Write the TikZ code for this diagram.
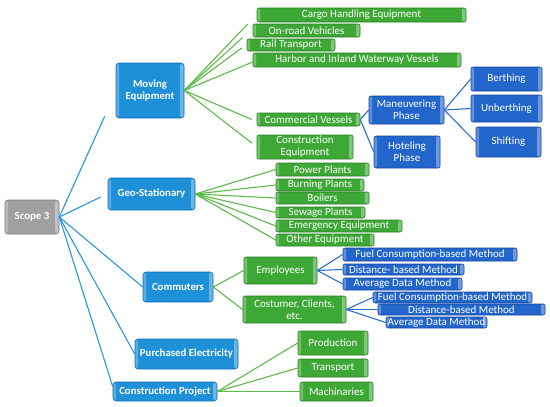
\documentclass[tikz,border=0pt]{standalone}
\usepackage{fontspec}
\setmainfont{Carlito}
\definecolor{lvA}{RGB}{30,144,216}
\definecolor{lvAd}{RGB}{22,108,178}
\definecolor{grA}{RGB}{62,168,54}
\definecolor{grAd}{RGB}{40,128,36}
\definecolor{dbA}{RGB}{34,102,204}
\definecolor{dbAd}{RGB}{22,70,160}
\definecolor{gyA}{RGB}{160,160,160}
\definecolor{gyAd}{RGB}{118,118,118}
\definecolor{lnA}{RGB}{40,150,225}
\definecolor{lnG}{RGB}{92,186,72}
\definecolor{lnD}{RGB}{45,110,210}
\tikzset{
  basebox/.style={rounded corners=2pt, inner sep=0pt, text=white, align=center,
    font=\fontsize{11}{12}\selectfont, line width=0.6pt,
    path picture={
      \fill[white,opacity=0.28] (path picture bounding box.north west) rectangle ([xshift=3pt]path picture bounding box.south west);
      \fill[white,opacity=0.35] ([xshift=-4pt]path picture bounding box.north east) rectangle (path picture bounding box.south east);
    }},
  lvbox/.style={basebox, fill=lvA, draw=lvAd, rounded corners=3pt, font=\bfseries\fontsize{10.8}{12.5}\selectfont},
  gybox/.style={basebox, fill=gyA, draw=gyAd, rounded corners=3pt, font=\bfseries\fontsize{10.8}{12}\selectfont},
  grbox/.style={basebox, fill=grA, draw=grAd},
  dbbox/.style={basebox, fill=dbA, draw=dbAd},
  lineA/.style={draw=lnA, line width=1.1pt},
  lineG/.style={draw=lnG, line width=1.1pt},
  lineD/.style={draw=lnD, line width=1.1pt},
}
\begin{document}
\begin{tikzpicture}[x=1pt,y=-1pt]
\useasboundingbox (0,0) rectangle (550,407);
% level 0 and 1
\node[gybox, minimum width=54pt, minimum height=34pt] (scope) at (32,217) {Scope 3};
\node[lvbox, minimum width=68pt, minimum height=55pt] (mov) at (150,90.5) {Moving\\Equipment};
\node[lvbox, minimum width=87pt, minimum height=32pt] (geo) at (151.5,194) {Geo-Stationary};
\node[lvbox, minimum width=70pt, minimum height=30pt] (com) at (178,287) {Commuters};
\node[lvbox, minimum width=103pt, minimum height=30pt] (pur) at (186.5,354) {Purchased Electricity};
\node[lvbox, minimum width=104pt, minimum height=19pt] (con) at (165,391.5) {Construction Project};
% moving equipment children
\node[grbox, minimum width=209pt, minimum height=14pt] (cargo) at (361.5,15) {Cargo Handling Equipment};
\node[grbox, minimum width=107pt, minimum height=13pt] (onroad) at (306.5,30.5) {On-road Vehicles};
\node[grbox, minimum width=88pt, minimum height=12pt] (rail) at (291,45) {Rail Transport};
\node[grbox, minimum width=208pt, minimum height=14pt] (harbor) at (357,60) {Harbor and Inland Waterway Vessels};
\node[grbox, minimum width=103pt, minimum height=13pt] (cv) at (308.5,119.5) {Commercial Vessels};
\node[grbox, minimum width=96pt, minimum height=24pt] (ce) at (305,147) {Construction\\Equipment};
\node[dbbox, minimum width=75pt, minimum height=28pt] (man) at (406.5,110) {Maneuvering\\Phase};
\node[dbbox, minimum width=66pt, minimum height=32pt] (hot) at (407,152) {Hoteling\\Phase};
\node[dbbox, minimum width=71pt, minimum height=24pt] (ber) at (506.5,79) {Berthing};
\node[dbbox, minimum width=71pt, minimum height=27pt] (unb) at (506.5,108.5) {Unberthing};
\node[dbbox, minimum width=65pt, minimum height=30pt] (shi) at (508.5,142) {Shifting};
% geo-stationary children
\node[grbox, minimum width=93pt, minimum height=13pt] (pp) at (322.5,169.5) {Power Plants};
\node[grbox, minimum width=88pt, minimum height=12pt] (bp) at (320,185) {Burning Plants};
\node[grbox, minimum width=93pt, minimum height=12pt] (boi) at (322.5,198) {Boilers};
\node[grbox, minimum width=89pt, minimum height=11pt] (sew) at (320.5,212.5) {Sewage Plants};
\node[grbox, minimum width=126pt, minimum height=12pt] (emer) at (339,226) {Emergency Equipment};
\node[grbox, minimum width=98pt, minimum height=12pt] (oth) at (325,240) {Other Equipment};
% commuters children
\node[grbox, minimum width=73pt, minimum height=27pt] (emp) at (280.5,270.5) {Employees};
\node[grbox, minimum width=103pt, minimum height=27pt] (cus) at (294.5,309.5) {Costumer, Clients,\\etc.};
\node[dbbox, minimum width=174pt, minimum height=13pt] (ma) at (430,254.5) {Fuel Consumption-based Method};
\node[dbbox, minimum width=121pt, minimum height=11pt] (mb) at (403.5,269.5) {Distance- based Method};
\node[dbbox, minimum width=119pt, minimum height=12pt] (mc) at (402.5,284) {Average Data Method};
\node[dbbox, minimum width=159pt, minimum height=11pt] (na) at (452.5,297.5) {Fuel Consumption-based Method};
\node[dbbox, minimum width=167pt, minimum height=11pt] (nb) at (461.5,309.5) {Distance-based Method};
\node[dbbox, minimum width=101pt, minimum height=11pt] (nc) at (436.5,322.5) {Average Data Method};
% construction project children
\node[grbox, minimum width=70pt, minimum height=24pt] (prod) at (333,343) {Production};
\node[grbox, minimum width=70pt, minimum height=18pt] (tra) at (333,368) {Transport};
\node[grbox, minimum width=73pt, minimum height=19pt] (mach) at (336.5,391.5) {Machinaries};
% connectors from scope
\draw[lineA] (scope.east) -- ([xshift=-11pt,yshift=2pt]mov.south west);
\draw[lineA] (scope.east) -- ([xshift=-7pt,yshift=-3pt]geo.west);
\draw[lineA] (scope.east) -- (com.west);
\draw[lineA] (scope.east) -- (pur.west);
\draw[lineA] (scope.east) -- ([yshift=5pt]con.west);
% moving equipment
\draw[lineG] (mov.east) -- ([xshift=-9pt,yshift=-9pt]cargo.west);
\draw[lineG] (mov.east) -- ([xshift=-10pt,yshift=-7pt]onroad.west);
\draw[lineG] (mov.east) -- ([xshift=-5pt,yshift=-3pt]rail.west);
\draw[lineG] (mov.east) -- ([yshift=-2pt]harbor.west);
\draw[lineG] (mov.east) -- ([xshift=-5pt]cv.west);
\draw[lineG] (mov.east) -- ([xshift=-5pt,yshift=4pt]ce.west);
\draw[lineD] (cv.east) -- (man.west);
\draw[lineD] (cv.east) -- (hot.west);
\draw[lineD] (man.east) -- (ber.west);
\draw[lineD] (man.east) -- (unb.west);
\draw[lineD] (man.east) -- (shi.west);
% geo-stationary
\foreach \t in {pp,bp,boi,sew,emer,oth} \draw[lineG] (geo.east) -- (\t.west);
% commuters
\draw[lineG] (com.east) -- (emp.west);
\draw[lineG] (com.east) -- (cus.west);
\foreach \t in {ma,mb,mc} \draw[lineD] (emp.east) -- (\t.west);
\foreach \t in {na,nb,nc} \draw[lineD] (cus.east) -- (\t.west);
% construction project
\foreach \t in {prod,tra,mach} \draw[lineG] (con.east) -- (\t.west);
\end{tikzpicture}
\end{document}
